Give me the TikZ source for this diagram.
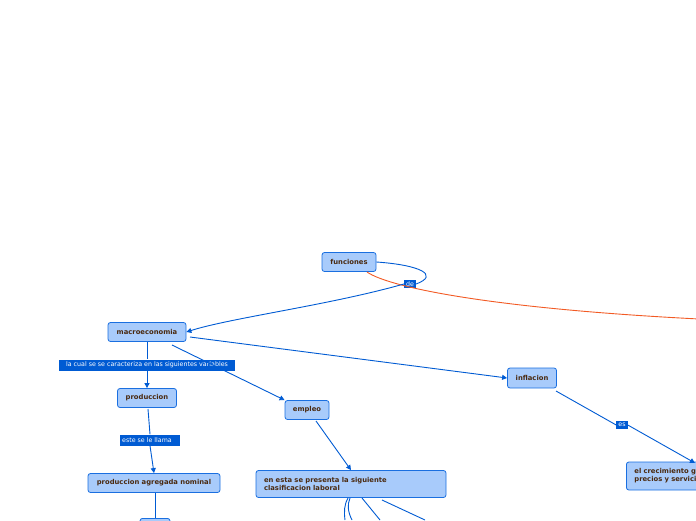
\documentclass[tikz,border=0pt]{standalone}
\usepackage{fontspec}
\setmainfont{DejaVu Sans}
\usetikzlibrary{arrows.meta}
\definecolor{bx}{HTML}{A8CBFB}
\definecolor{bd}{HTML}{1A6FE0}
\definecolor{lb}{HTML}{005BD3}
\definecolor{tx}{HTML}{4A2A10}
\definecolor{org}{HTML}{F25A24}
\tikzset{
 topic/.style={draw=bd,fill=bx,rounded corners=2.5pt,line width=0.8pt,font=\fontsize{6.8}{8}\selectfont\bfseries,text=tx,inner sep=0pt},
 lab/.style={fill=lb,text=white,font=\fontsize{6.3}{7}\selectfont,inner sep=2pt},
 con/.style={draw=lb,line width=0.9pt},
 arr/.style={con,-{Triangle[length=5pt,width=5pt]}}
}
\begin{document}
\begin{tikzpicture}[x=1pt,y=-1pt]
\useasboundingbox (0,0) rectangle (696,520);
\node[topic,minimum width=54pt,minimum height=19pt] (fun) at (349,262) {funciones};
\node[topic,minimum width=78pt,minimum height=19pt] (mac) at (147,332) {macroeconomia};
\node[topic,minimum width=59pt,minimum height=19pt] (pro) at (147,398) {produccion};
\node[topic,minimum width=132pt,minimum height=19pt] (pan) at (154,483) {produccion agregada nominal};
\node[topic,minimum width=44pt,minimum height=19pt] (emp) at (307,410) {empleo};
\node[topic,minimum width=190pt,minimum height=27pt,align=left,text width=174pt] (est) at (351,484) {en esta se presenta la siguiente\\clasificacion laboral};
\node[topic,minimum width=49pt,minimum height=20pt] (inf) at (532,378) {inflacion};
\node[topic,minimum width=140pt,minimum height=28pt,align=left,text width=124pt,anchor=west] (cre) at (626,476) {el crecimiento general de los\\precios y servicios};
\node[topic,minimum width=30pt,minimum height=10pt,anchor=north] (sub) at (155,518) {};
\node[lab] (de) at (410,284) {de};
\node[lab,minimum width=176pt,minimum height=11pt] (l1) at (147,365) {la cual se se caracteriza en las siguientes variables};
\node[lab,minimum width=60pt,minimum height=11pt,align=left] (l2) at (150,440) {este se le llama\hspace{6pt}};
\node[lab] (es) at (622,425) {es};
\coordinate (o1) at (720,320);
\coordinate (b1) at (380,520);
\coordinate (b2) at (425,520);
\coordinate (b3) at (345,520);
\coordinate (b4) at (352,520);
\draw[draw=org,line width=0.9pt] (367,272) .. controls (390,288) and (500,310) .. (o1);
\draw[con] (fun.east) .. controls (420,265) and (440,275) .. (de.east);
\draw[arr] (de.west) .. controls (330,305) and (230,318) .. (mac.east);
\draw[arr] (190,337) -- (inf.west);
\draw[arr] (172,345) -- (emp.north west);
\draw[con] (mac.south) -- (l1.north);
\draw[arr] (l1.south) -- (pro.north);
\draw[con] (148,409) -- (l2.north);
\draw[arr] (l2.south) -- (pan.north);
\draw[con] (155,493) -- (sub.north);
\draw[arr] (316,421) -- (est.north);
\draw[con] (348,498) .. controls (344,505) and (344,512) .. (b3);
\draw[con] (350,498) .. controls (347,505) and (348,512) .. (b4);
\draw[con] (362,498) -- (b1);
\draw[con] (382,500) -- (b2);
\draw[con] (556,391) -- (es.west);
\draw[arr] (es.east) -- (695,463);
\end{tikzpicture}
\end{document}
